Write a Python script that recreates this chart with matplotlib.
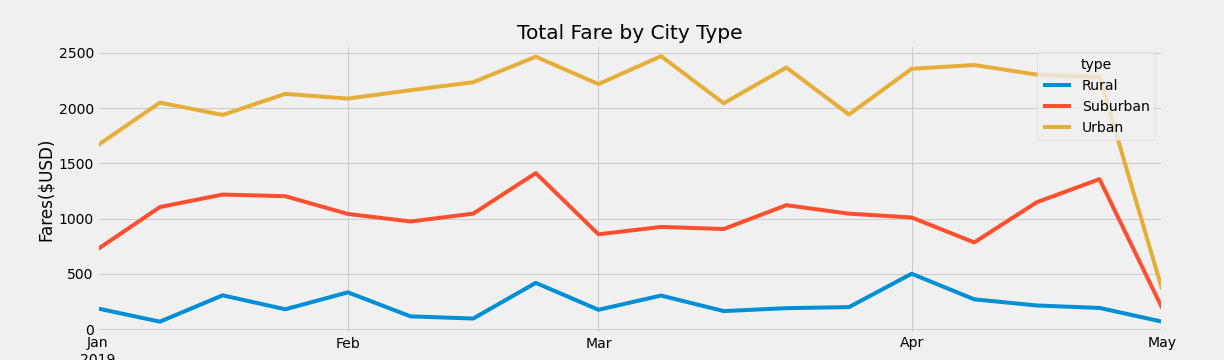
import matplotlib
matplotlib.use("Agg")
import matplotlib.pyplot as plt

plt.style.use("fivethirtyeight")

weeks = list(range(18))
tick_positions = [0, 4, 8, 13, 17]
tick_labels = ["Jan\n2019", "Feb", "Mar", "Apr", "May"]

rural = [187.92, 67.65, 306.00, 179.69, 333.08, 115.80, 95.82, 419.06, 175.14,
         303.94, 163.39, 189.76, 199.42, 501.24, 269.79, 214.14, 191.85, 67.60]
suburban = [721.60, 1105.13, 1218.20, 1203.28, 1042.79, 974.34, 1045.50, 1412.74,
            858.46, 925.27, 906.20, 1122.20, 1045.06, 1010.73, 784.82, 1149.27,
            1357.75, 190.0]
urban = [1661.68, 2050.43, 1939.02, 2129.51, 2086.94, 2162.64, 2235.07, 2466.29,
         2218.20, 2470.93, 2044.42, 2368.37, 1942.90, 2356.70, 2390.72, 2303.80,
         2281.09, 357.0]

fig = plt.figure(figsize=(17, 5), dpi=72)
ax = fig.add_subplot(111)
fig.subplots_adjust(left=0.0795, right=0.9495, bottom=0.075, top=0.875)

ax.plot(weeks, rural, label="Rural")
ax.plot(weeks, suburban, label="Suburban")
ax.plot(weeks, urban, label="Urban")

ax.set_xlim(0, 17)
ax.set_ylim(-35, 2572)
ax.set_xticks(tick_positions)
ax.set_xticklabels(tick_labels)
ax.set_yticks([0, 500, 1000, 1500, 2000, 2500])
ax.set_title("Total Fare by City Type")
ax.set_ylabel("Fares($USD)")
ax.legend(title="type", loc="upper right")

fig.savefig("out.png", dpi=72)
